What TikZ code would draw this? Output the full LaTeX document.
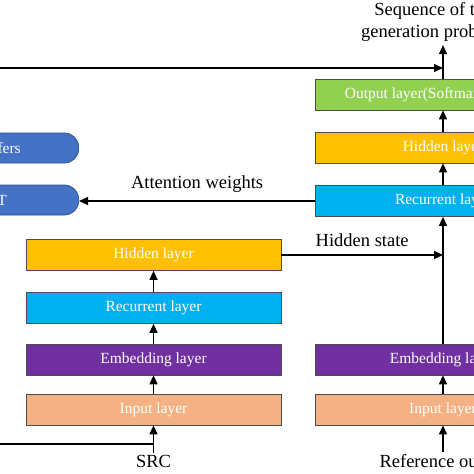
\documentclass[tikz,border=0pt]{standalone}
\usepackage{fontspec}
\setmainfont{Liberation Serif}
\usetikzlibrary{arrows.meta,calc,positioning}
\definecolor{hidcol}{HTML}{FFC000}
\definecolor{reccol}{HTML}{00B0F0}
\definecolor{embcol}{HTML}{7030A0}
\definecolor{incol}{HTML}{F4B183}
\definecolor{outcol}{HTML}{92D050}
\definecolor{pillcol}{HTML}{4472C4}
\definecolor{pillline}{HTML}{2F4F8F}
\begin{document}
\begin{tikzpicture}[x=1pt,y=-1pt,
  layer/.style={draw=black!70,line width=0.7pt,minimum width=255pt,minimum height=31pt,inner sep=0pt,text=white,font=\fontsize{15.5}{18}\selectfont},
  pill/.style={draw=pillline,line width=0.7pt,fill=pillcol,rounded corners=14pt,minimum height=30pt,inner sep=0pt,text=white,font=\fontsize{15.5}{18}\selectfont,anchor=east},
  lab/.style={font=\fontsize{18.5}{22}\selectfont},
  arr/.style={line width=1.2pt,-{Triangle[length=9pt,width=8pt]}}]
\useasboundingbox (0,0) rectangle (474,474);
\clip (0,0) rectangle (474,474);
\node[layer,fill=hidcol] (H1) at (153.5,255) {Hidden layer};
\node[layer,fill=reccol] (R1) at (153.5,308) {Recurrent layer};
\node[layer,fill=embcol] (E1) at (153.5,359.5) {Embedding layer};
\node[layer,fill=incol] (I1) at (153.5,409.5) {Input layer};
\node[layer,fill=outcol] (O2) at (443,94.5) {Output layer(Softmax function)};
\node[layer,fill=hidcol] (H2) at (443,147.5) {Hidden layer};
\node[layer,fill=reccol] (R2) at (443,201) {Recurrent layer};
\node[layer,fill=embcol] (E2) at (443,359.5) {Embedding layer};
\node[layer,fill=incol] (I2) at (443,409.5) {Input layer};
\node[pill,minimum width=162pt] (P1) at (79,148) {Buffers};
\node[pill,minimum width=178pt] (P2) at (79,200) {NMT};
\node[lab,anchor=base,inner sep=2pt] (src) at (153.5,467) {SRC};
\node[lab,anchor=base,inner sep=2pt] (ref) at (443,467) {Reference output};
\node[lab,align=center] (seq) at (443,22) {Sequence of target\\generation probability};
\coordinate (L) at (0,444);
\coordinate (T) at (0,68);
\draw[line width=1.2pt] (L) -- (L -| src.north);
\draw[arr] (src.north) -- (I1);
\draw[arr] (I1) -- (E1);
\draw[arr] (E1) -- (R1);
\draw[arr] (R1) -- (H1);
\draw[arr] (ref.north) -- (I2);
\draw[arr] (I2) -- (E2);
\draw[arr] (E2) -- (R2);
\draw[arr] (R2) -- (H2);
\draw[arr] (H2) -- (O2);
\draw[arr] (O2) -- (seq);
\draw[arr] (T) -- (T -| O2.north);
\draw[arr] (H1.east) -- node[above=4pt,lab] {Hidden state} (H1.east -| R2.south);
\draw[arr] (R2.west) -- node[above=5pt,lab] {Attention weights} (R2.west -| P2.east);
\end{tikzpicture}
\end{document}
